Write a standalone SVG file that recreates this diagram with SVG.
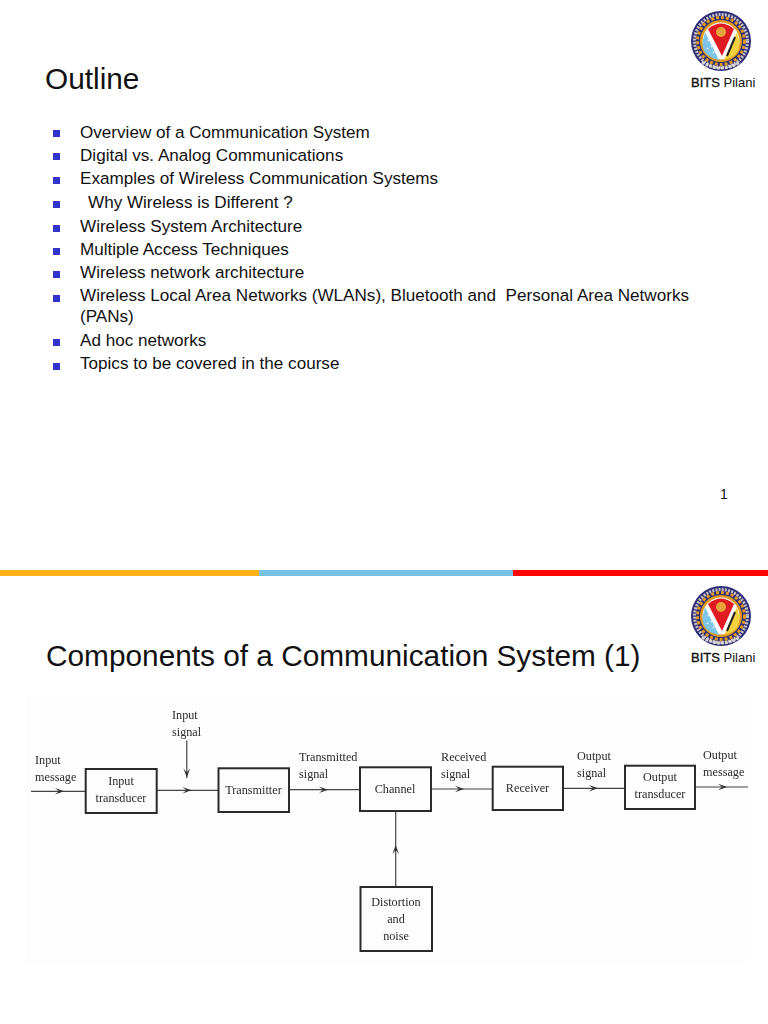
<svg xmlns="http://www.w3.org/2000/svg" width="768" height="1024" viewBox="0 0 768 1024">
<style>
.t{font-family:"Liberation Sans",Arial,sans-serif;fill:#111}
.title{font-size:29.8px}
.li{font-size:17.1px}
.b{fill:#3333cc}
.brand{font-size:13px;fill:#111}
.box{fill:#fdfdfd;stroke:#2a2a2a;stroke-width:2}
.s{font-family:"Liberation Serif","Times New Roman",serif;font-size:12.2px;fill:#2b2b2b}
.m{text-anchor:middle}
.c{fill:none;stroke:#444;stroke-width:1.2;marker-mid:url(#a)}
.scan{filter:url(#soft)}
</style>
<defs>
<filter id="soft" x="-5%" y="-5%" width="110%" height="110%"><feGaussianBlur stdDeviation="0.35"/></filter>
<marker id="a" markerUnits="userSpaceOnUse" viewBox="-10 -4 12 8" refX="0" refY="0" markerWidth="12" markerHeight="8" orient="auto">
<path d="M-9-3.300L0 0L-9 3.300L-5 0Z" fill="#333"/>
</marker>
<g id="logo" class="scan">
<circle cx="721" cy="41" r="30" fill="#2e2d78"/>
<circle cx="721" cy="41" r="26.5" fill="none" stroke="#c9c2c4" stroke-width="3" stroke-dasharray="2 1.2"/>
<circle cx="721" cy="41" r="23.5" fill="none" stroke="#dd9a22" stroke-width="3" stroke-dasharray="3 2"/>
<circle cx="721" cy="41" r="21" fill="#df9a1f"/>
<circle cx="721" cy="41" r="18.5" fill="#fff"/>
<path d="M708 29Q721 18 734 29L722 56Z" fill="#e01b24"/>
<path d="M705 32L719 60Q700 56 703 40Z" fill="#7cc4e8"/>
<path d="M737 32L724 60Q742 56 739 40Z" fill="#f3d23c"/>
<circle cx="721" cy="32" r="5" fill="#e8a33a"/>
<path d="M735 37L727 56" stroke="#222" stroke-width="2"/>
<path d="M708 40l1 1M711 46l1 1M707 48l1 1M713 52l1 1" stroke="#fff" stroke-width="1.5"/>
<path d="M702 62Q721 74 740 62" fill="none" stroke="#d8d4d0" stroke-width="3" stroke-dasharray="3 1"/>
</g>
</defs>
<rect width="768" height="1024" fill="#fff"/>

<g id="slide1">
<text class="t title" x="45" y="89">Outline</text>
<use href="#logo"/>
<text class="t brand" x="691" y="87" stroke="#111" stroke-width="0"><tspan stroke-width="0.35">BITS</tspan> Pilani</text>
<g id="bullets">
<rect class="b" x="53" y="130" width="7" height="7"/>
<rect class="b" x="53" y="153" width="7" height="7"/>
<rect class="b" x="53" y="177" width="7" height="7"/>
<rect class="b" x="53" y="201" width="7" height="7"/>
<rect class="b" x="53" y="225" width="7" height="7"/>
<rect class="b" x="53" y="248" width="7" height="7"/>
<rect class="b" x="53" y="271" width="7" height="7"/>
<rect class="b" x="53" y="295" width="7" height="7"/>
<rect class="b" x="53" y="339" width="7" height="7"/>
<rect class="b" x="53" y="363" width="7" height="7"/>
</g>
<text class="t li" x="80" y="137.500">Overview of a Communication System</text>
<text class="t li" x="80" y="161">Digital vs. Analog Communications</text>
<text class="t li" x="80" y="184">Examples of Wireless Communication Systems</text>
<text class="t li" x="88" y="208">Why Wireless is Different ?</text>
<text class="t li" x="80" y="231.500">Wireless System Architecture</text>
<text class="t li" x="80" y="254.500">Multiple Access Techniques</text>
<text class="t li" x="80" y="277.500">Wireless network architecture</text>
<text class="t li" x="80" y="301" xml:space="preserve">Wireless Local Area Networks (WLANs), Bluetooth and  Personal Area Networks</text>
<text class="t li" x="80" y="322">(PANs)</text>
<text class="t li" x="80" y="345.500">Ad hoc networks</text>
<text class="t li" x="80" y="369">Topics to be covered in the course</text>
<text class="t" x="720" y="499" font-size="14">1</text>
</g>

<g id="footerbar">
<rect x="0" y="570" width="259" height="6" fill="#ffb116"/>
<rect x="259" y="570" width="254" height="6" fill="#78c0e4"/>
<rect x="513" y="570" width="255" height="6" fill="#fe0000"/>
</g>

<g id="slide2">
<text class="t title" x="46" y="666">Components of a Communication System (1)</text>
<use href="#logo" y="575"/>
<text class="t brand" x="691" y="662" stroke="#111" stroke-width="0"><tspan stroke-width="0.35">BITS</tspan> Pilani</text>
<rect x="25" y="695" width="720" height="268" fill="#fdfdfd"/>
</g>

<g id="connectors" class="scan">
<path class="c" d="M31 791.300H64H86"/>
<path class="c" d="M157 790.300H191.500H218"/>
<path class="c" d="M186.800 740.500V777.500V778"/>
<path class="c" d="M289 789.700H328H360"/>
<path class="c" d="M431 789H464H493"/>
<path class="c" d="M563 788.300H598H625"/>
<path class="c" d="M695 787H727H748"/>
<path class="c" d="M395.700 887V845V811"/>
</g>

<g id="input-transducer" class="scan">
<rect class="box" x="85.700" y="769" width="71" height="44"/>
<text class="s m" x="121" y="785">Input</text>
<text class="s m" x="121" y="802">transducer</text>
</g>
<g id="transmitter" class="scan">
<rect class="box" x="218.500" y="768.300" width="70.500" height="43.700"/>
<text class="s m" x="253.500" y="793.500">Transmitter</text>
</g>
<g id="channel" class="scan">
<rect class="box" x="360" y="767.300" width="71" height="43.700"/>
<text class="s m" x="395" y="793">Channel</text>
</g>
<g id="distortion" class="scan">
<rect class="box" x="360.500" y="887" width="71.500" height="64"/>
<text class="s m" x="396" y="906">Distortion</text>
<text class="s m" x="396" y="923">and</text>
<text class="s m" x="396" y="940">noise</text>
</g>
<g id="receiver" class="scan">
<rect class="box" x="492.700" y="766.700" width="70.300" height="43.300"/>
<text class="s m" x="527.500" y="792">Receiver</text>
</g>
<g id="output-transducer" class="scan">
<rect class="box" x="625" y="765.700" width="70" height="43.300"/>
<text class="s m" x="660" y="781">Output</text>
<text class="s m" x="660" y="798">transducer</text>
</g>

<g id="labels" class="scan">
<text class="s" x="35" y="764">Input</text>
<text class="s" x="35" y="781">message</text>
<text class="s" x="172" y="719">Input</text>
<text class="s" x="172" y="736">signal</text>
<text class="s" x="299" y="761">Transmitted</text>
<text class="s" x="299" y="778">signal</text>
<text class="s" x="441" y="761">Received</text>
<text class="s" x="441" y="778">signal</text>
<text class="s" x="577" y="760">Output</text>
<text class="s" x="577" y="777">signal</text>
<text class="s" x="703" y="759">Output</text>
<text class="s" x="703" y="776">message</text>
</g>
</svg>
